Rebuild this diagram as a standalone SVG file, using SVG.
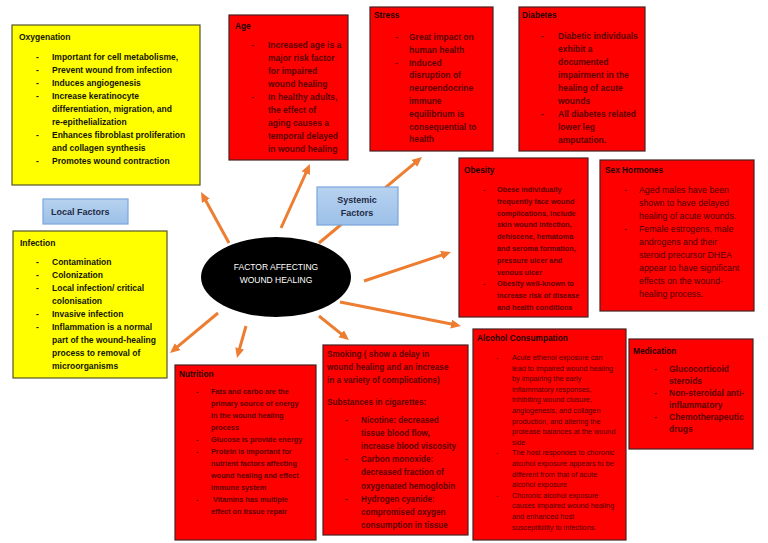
<svg xmlns="http://www.w3.org/2000/svg" width="768" height="543" viewBox="0 0 768 543">
<defs>
<marker id="ah" markerUnits="userSpaceOnUse" markerWidth="11" markerHeight="10" refX="4" refY="4.5" orient="auto">
<path d="M0,0 L10,4.5 L0,9 z" fill="#ED7D31"/>
</marker>
<linearGradient id="blue" x1="0" y1="0" x2="0" y2="1">
<stop offset="0" stop-color="#b7d2ef"/>
<stop offset="1" stop-color="#9cc0e8"/>
</linearGradient>
</defs>
<style>
text{font-family:"Liberation Sans",Arial,sans-serif;}
.yb{fill:#FFFF00;stroke:#55552b;stroke-width:1.2;}
.rb{fill:#FF0000;stroke:#4a2020;stroke-width:1.2;}
.bb{fill:url(#blue);stroke:#7aa6dc;stroke-width:1.2;}
.yt{font-size:8.5px;font-weight:bold;fill:#141400;}
.yh{font-size:8.5px;font-weight:bold;fill:#141400;}
.rh{font-size:8.3px;font-weight:bold;fill:#220000;}
.rt{font-size:8.5px;font-weight:bold;fill:#5a0000;}
.rs{font-size:7.3px;font-weight:bold;fill:#5a0000;}
.ra{font-size:7.3px;fill:#4a0000;}
.rm{font-size:8.8px;fill:#4a0000;}
.bt{font-size:9px;font-weight:bold;fill:#1f2a44;}
.ct{font-size:8.5px;fill:#ffffff;}
.cn{stroke:#ED7D31;stroke-width:3;fill:none;marker-end:url(#ah);}
</style>
<rect width="768" height="543" fill="#ffffff"/>

<g id="connectors">
<line class="cn" x1="229" y1="243" x2="203.9" y2="197.3"/>
<line class="cn" x1="281" y1="228" x2="307.5" y2="169.5"/>
<line class="cn" x1="319" y1="243" x2="417.4" y2="160.8"/>
<line class="cn" x1="364" y1="281" x2="445.3" y2="253.9"/>
<line class="cn" x1="340" y1="302" x2="455.1" y2="324.8"/>
<line class="cn" x1="319" y1="316" x2="344.3" y2="336.3"/>
<line class="cn" x1="246" y1="326" x2="238.6" y2="352.2"/>
<line class="cn" x1="218" y1="313" x2="174.6" y2="349.2"/>
</g>

<g id="center">
<ellipse cx="276" cy="277" rx="75" ry="40" fill="#000000"/>
<text class="ct" x="276" y="270" text-anchor="middle">FACTOR AFFECTING</text>
<text class="ct" x="276" y="283" text-anchor="middle">WOUND HEALING</text>
</g>

<g id="local-factors">
<rect class="bb" x="43" y="199" width="85" height="25"/>
<text class="bt" x="51" y="215">Local Factors</text>
</g>

<g id="systemic-factors">
<rect class="bb" x="317" y="187" width="81" height="38"/>
<text class="bt" x="357" y="203" text-anchor="middle">Systemic</text>
<text class="bt" x="357" y="216" text-anchor="middle">Factors</text>
</g>

<g id="oxygenation">
<rect class="yb" x="12" y="25" width="188" height="160"/>
<text class="yh" x="19" y="40">Oxygenation</text>
<g class="yt">
<text x="36" y="60">-</text><text x="52" y="60">Important for cell metabolisme,</text>
<text x="36" y="73">-</text><text x="52" y="73">Prevent wound from infection</text>
<text x="36" y="86">-</text><text x="52" y="86">Induces angiogenesis</text>
<text x="36" y="99">-</text><text x="52" y="99">Increase keratinocyte</text>
<text x="52" y="112">differentiation, migration, and</text>
<text x="52" y="125">re-epithelialization</text>
<text x="36" y="138">-</text><text x="52" y="138">Enhances fibroblast proliferation</text>
<text x="52" y="151">and collagen synthesis</text>
<text x="36" y="164">-</text><text x="52" y="164">Promotes wound contraction</text>
</g>
</g>

<g id="infection">
<rect class="yb" x="13" y="231" width="154" height="147"/>
<text class="yh" x="20" y="246">Infection</text>
<g class="yt">
<text x="36" y="265">-</text><text x="52" y="265">Contamination</text>
<text x="36" y="278">-</text><text x="52" y="278">Colonization</text>
<text x="36" y="291">-</text><text x="52" y="291">Local infection/ critical</text>
<text x="52" y="304">colonisation</text>
<text x="36" y="317">-</text><text x="52" y="317">Invasive infection</text>
<text x="36" y="330">-</text><text x="52" y="330">Inflammation is a normal</text>
<text x="52" y="343">part of the wound-healing</text>
<text x="52" y="356">process to removal of</text>
<text x="52" y="369">microorganisms</text>
</g>
</g>

<g id="age">
<rect class="rb" x="229" y="15" width="119" height="145"/>
<text class="rh" x="235" y="29">Age</text>
<g class="rt">
<text x="251" y="48">-</text><text x="268" y="48">Increased age is a</text>
<text x="268" y="61">major risk factor</text>
<text x="268" y="74">for impaired</text>
<text x="268" y="87">wound healing</text>
<text x="251" y="100">-</text><text x="268" y="100">In healthy adults,</text>
<text x="268" y="113">the effect of</text>
<text x="268" y="126">aging causes a</text>
<text x="268" y="139">temporal delayed</text>
<text x="268" y="152">in wound healing</text>
</g>
</g>

<g id="stress">
<rect class="rb" x="370" y="7" width="123" height="144"/>
<text class="rh" x="374" y="18">Stress</text>
<g class="rt">
<text x="395" y="40">-</text><text x="409" y="40">Great impact on</text>
<text x="409" y="52.8">human health</text>
<text x="395" y="65.6">-</text><text x="409" y="65.6">Induced</text>
<text x="409" y="78.4">disruption of</text>
<text x="409" y="91.2">neuroendocrine</text>
<text x="409" y="104">immune</text>
<text x="409" y="116.8">equilibrium is</text>
<text x="409" y="129.6">consequential to</text>
<text x="409" y="142.4">health</text>
</g>
</g>

<g id="diabetes">
<rect class="rb" x="519" y="7" width="126" height="144"/>
<text class="rh" x="522" y="18">Diabetes</text>
<g class="rt">
<text x="541" y="39">-</text><text x="558" y="39">Diabetic individuals</text>
<text x="558" y="52">exhibit a</text>
<text x="558" y="65">documented</text>
<text x="558" y="78">impairment in the</text>
<text x="558" y="91">healing of acute</text>
<text x="558" y="104">wounds</text>
<text x="541" y="117">-</text><text x="558" y="117">All diabetes related</text>
<text x="558" y="130">lower leg</text>
<text x="558" y="143">amputation.</text>
</g>
</g>

<g id="obesity">
<rect class="rb" x="459" y="158" width="129" height="159"/>
<text class="rh" x="464" y="173">Obesity</text>
<g class="rs">
<text x="483" y="192">-</text><text x="497" y="192">Obese individually</text>
<text x="497" y="203.8">frequently face wound</text>
<text x="497" y="215.6">complications, include</text>
<text x="497" y="227.4">skin wound infection,</text>
<text x="497" y="239.2">dehiscene, hematoma</text>
<text x="497" y="251">and seroma formation,</text>
<text x="497" y="262.8">pressure ulcer and</text>
<text x="497" y="274.6">venous ulcer</text>
<text x="483" y="286.4">-</text><text x="497" y="286.4">Obesity well-known to</text>
<text x="497" y="298.2">increase risk of disease</text>
<text x="497" y="310">and health conditions</text>
</g>
</g>

<g id="sex-hormones">
<rect class="rb" x="600" y="160" width="154" height="151"/>
<text class="rh" x="605" y="173">Sex Hormones</text>
<g class="rm">
<text x="624" y="193">-</text><text x="639" y="193">Aged males have been</text>
<text x="639" y="206">shown to have delayed</text>
<text x="639" y="219">healing of acute wounds.</text>
<text x="624" y="232">-</text><text x="639" y="232">Female estrogens, male</text>
<text x="639" y="245">androgens and their</text>
<text x="639" y="258">steroid precursor DHEA</text>
<text x="639" y="271">appear to have significant</text>
<text x="639" y="284">effects on the wound-</text>
<text x="639" y="297">healing process.</text>
</g>
</g>

<g id="nutrition">
<rect class="rb" x="175" y="365" width="141" height="175"/>
<text class="rh" x="179" y="377">Nutrition</text>
<g class="rs">
<text x="196" y="394">-</text><text x="211" y="394">Fats and carbo are the</text>
<text x="211" y="406">primary source of energy</text>
<text x="211" y="418">in the wound healing</text>
<text x="211" y="430">process</text>
<text x="196" y="442">-</text><text x="211" y="442">Glucose is provide energy</text>
<text x="196" y="454">-</text><text x="211" y="454">Protein is  important  for</text>
<text x="211" y="466">nutrient factors affecting</text>
<text x="211" y="478">wound healing and effect</text>
<text x="211" y="490">immune system</text>
<text x="196" y="502">-</text><text x="211" y="502" xml:space="preserve"> Vitamins has multiple</text>
<text x="211" y="514">effect on tissue repair</text>
</g>
</g>

<g id="smoking">
<rect class="rb" x="323" y="345" width="145" height="190"/>
<g class="rt" style="font-size:8.2px">
<text x="327" y="357">Smoking ( show a delay in</text>
<text x="327" y="370">wound healing and an increase</text>
<text x="327" y="383">in a variety of complications)</text>
<text x="327" y="405">Substances in cigarettes:</text>
<text x="345" y="423">-</text><text x="361" y="423">Nicotine: decreased</text>
<text x="361" y="436.1">tissue blood flow,</text>
<text x="361" y="449.2">increase blood viscosity</text>
<text x="345" y="462.3">-</text><text x="361" y="462.3">Carbon monoxide:</text>
<text x="361" y="475.4">decreased fraction of</text>
<text x="361" y="488.5">oxygenated hemoglobin</text>
<text x="345" y="501.6">-</text><text x="361" y="501.6">Hydrogen cyanide:</text>
<text x="361" y="514.7">compromised oxygen</text>
<text x="361" y="527.8">consumption in tissue</text>
</g>
</g>

<g id="alcohol">
<rect class="rb" x="473" y="329" width="153" height="211"/>
<text class="rh" x="477" y="341">Alcohol Consumpation</text>
<g class="ra">
<text x="496" y="360">-</text><text x="512" y="360">Acute ethenol exposure can</text>
<text x="512" y="370.6">lead to impaired wound healing</text>
<text x="512" y="381.2">by impairing the early</text>
<text x="512" y="391.8">inflammatory responses,</text>
<text x="512" y="402.4">inhibiting wound closure,</text>
<text x="512" y="413">angiogenesis, and collagen</text>
<text x="512" y="423.6">production, and altering the</text>
<text x="512" y="434.2">protease balances at the wound</text>
<text x="512" y="444.8">side</text>
<text x="496" y="455.4">-</text><text x="512" y="455.4">The host respondes to choronic</text>
<text x="512" y="466">alcohol exposure appears to be</text>
<text x="512" y="476.6">different from that of acute</text>
<text x="512" y="487.2">alcohol exposure</text>
<text x="496" y="497.8">-</text><text x="512" y="497.8">Choronic alcohol exposure</text>
<text x="512" y="508.4">causes impaired wound healing</text>
<text x="512" y="519">and enhanced host</text>
<text x="512" y="529.6">susceptibility to infections.</text>
</g>
</g>

<g id="medication">
<rect class="rb" x="629" y="339" width="124" height="110"/>
<text class="rh" x="633" y="354">Medication</text>
<g class="rt">
<text x="654" y="372">-</text><text x="669" y="372">Glucocorticoid</text>
<text x="669" y="384">steroids</text>
<text x="654" y="396">-</text><text x="669" y="396">Non-steroidal anti-</text>
<text x="669" y="408">inflammatory</text>
<text x="654" y="420">-</text><text x="669" y="420">Chemotherapeutic</text>
<text x="669" y="432">drugs</text>
</g>
</g>
</svg>
